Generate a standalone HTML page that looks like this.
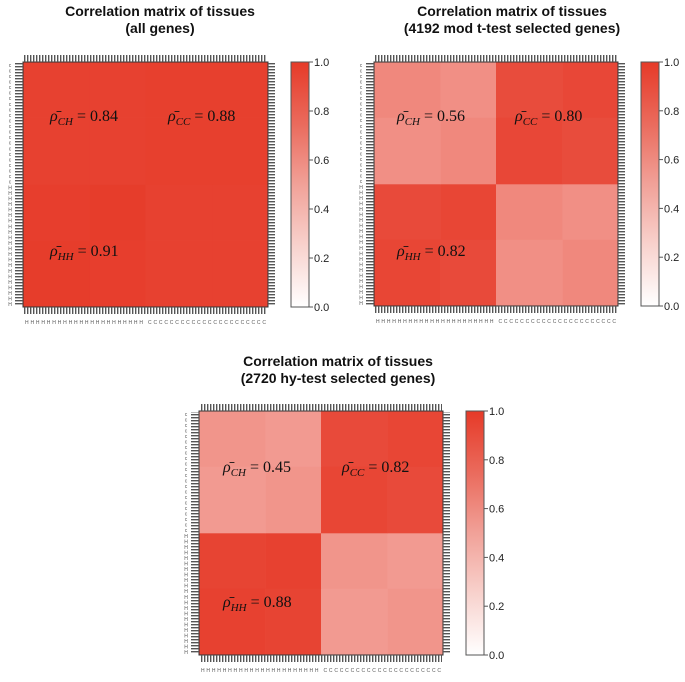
<!DOCTYPE html>
<html><head><meta charset="utf-8"><style>
html,body{margin:0;padding:0;background:#fff;}
svg{display:block;}
.t{font-family:"Liberation Sans",sans-serif;font-weight:bold;font-size:14px;fill:#111;}
.r{font-family:"Liberation Serif","DejaVu Serif",serif;font-size:16px;fill:#111;}
.cb{font-family:"Liberation Sans",sans-serif;font-size:11px;fill:#222;}
.tk{font-family:"Liberation Sans",sans-serif;font-size:5px;fill:#555;}
</style></head><body>
<svg id="fig" width="685" height="682" viewBox="0 0 685 682" xmlns="http://www.w3.org/2000/svg">
<defs>
<pattern id="hatchV" width="3" height="8" patternUnits="userSpaceOnUse"><rect x="0" y="0" width="1.4" height="8" fill="#555"/></pattern>
<pattern id="hatchH" width="8" height="3" patternUnits="userSpaceOnUse"><rect x="0" y="0" width="8" height="1.4" fill="#555"/></pattern>
<linearGradient id="cbgrad" x1="0" y1="1" x2="0" y2="0">
<stop offset="0" stop-color="#ffffff"/><stop offset="0.25" stop-color="#f8d2cd"/><stop offset="0.5" stop-color="#f1a198"/><stop offset="0.75" stop-color="#ea6a5c"/><stop offset="1" stop-color="#e63a28"/>
</linearGradient>
</defs>
</svg>
<script>
// cluster order: H1, H2, C1, C2
const clusters = ['H1','H2','C1','C2'];
const clusterSizes = [12, 10, 12, 10];
const corrAll = [
 [0.98,0.97,0.95,0.95],
 [0.97,0.98,0.95,0.95],
 [0.95,0.95,0.96,0.96],
 [0.95,0.95,0.96,0.96]];
const corrMod = [
 [0.92,0.89,0.47,0.51],
 [0.89,0.92,0.51,0.47],
 [0.47,0.51,0.91,0.88],
 [0.51,0.47,0.88,0.91]];
const corrHy = [
 [0.95,0.93,0.41,0.44],
 [0.93,0.95,0.44,0.41],
 [0.41,0.44,0.92,0.89],
 [0.44,0.41,0.89,0.92]];
const rhoLabels1 = ['0.84','0.88','0.91'];
const rhoLabels2 = ['0.56','0.80','0.82'];
const rhoLabels3 = ['0.45','0.82','0.88'];
const cbTicks = [0,0.2,0.4,0.6,0.8,1.0];

const NS='http://www.w3.org/2000/svg';
const fig=document.getElementById('fig');
function mk(tag,attrs,parent){const e=document.createElementNS(NS,tag);for(const k in attrs)e.setAttribute(k,attrs[k]);(parent||fig).appendChild(e);return e;}
function color(v){v=Math.max(0,Math.min(1,v));const t=Math.pow(v,0.75);
 const r=Math.round(255+(230-255)*t),g=Math.round(255+(58-255)*t),b=Math.round(255+(40-255)*t);return `rgb(${r},${g},${b})`;}

function chart(cfg){
 const g=mk('g',{});
 
 
 const {x0,y0,size,cx,ty}=cfg;
 const t1=mk('text',{x:cx,y:ty,'text-anchor':'middle',class:'t'},g);t1.textContent='Correlation matrix of tissues';
 
 const t2=mk('text',{x:cx,y:ty+17,'text-anchor':'middle',class:'t'},g);t2.textContent=cfg.sub;
 
 const N=clusterSizes.reduce((a,b)=>a+b,0);
 const sc=i=>size*i/N;
 const starts=[];let acc=0;clusterSizes.forEach(s=>{starts.push(acc);acc+=s;});
 const hm=mk('g',{},g);
 
 for(let i=0;i<4;i++)for(let j=0;j<4;j++){
  const x=x0+sc(starts[j]),w=sc(clusterSizes[j]);
  const h=sc(clusterSizes[i]),y=y0+size-sc(starts[i])-h;
  const r=mk('rect',{x:x,y:y,width:w+0.3,height:h+0.3,fill:color(cfg.data[i][j])},hm);
  
  
 }
 const frame=mk('rect',{x:x0,y:y0,width:size,height:size,fill:'none',stroke:'#333','stroke-width':1},g);
 
 const ht=mk('rect',{x:x0+1,y:y0-7,width:size-2,height:7,fill:'url(#hatchV)'},g);
 
 const hb=mk('rect',{x:x0+1,y:y0+size,width:size-2,height:7,fill:'url(#hatchV)'},g);
 
 const hl=mk('rect',{x:x0-8,y:y0+1,width:8,height:size-2,fill:'url(#hatchH)'},g);
 
 const hr=mk('rect',{x:x0+size,y:y0+1,width:7,height:size-2,fill:'url(#hatchH)'},g);
 
 const nH=clusterSizes[0]+clusterSizes[1];
 const bl=mk('text',{x:x0+size/2,y:y0+size+17,'text-anchor':'middle',class:'tk','textLength':size-4},g);
 bl.textContent='H'.repeat(nH)+' '+'C'.repeat(N-nH);
 
 for(let k=0;k<N;k++){
  const yy=y0+sc(k+0.5)+2;
  const lt=mk('text',{x:x0-13,y:yy,'text-anchor':'middle',class:'tk'},g);
  lt.textContent=k<N-nH?'c':'H';
  
 }
 const rl=[[cfg.rx1,cfg.ry1,'CH',cfg.rho[0]],[cfg.rx2,cfg.ry1,'CC',cfg.rho[1]],[cfg.rx1,cfg.ry2,'HH',cfg.rho[2]]];
 rl.forEach(([x,y,s,v])=>{
  const tx=mk('text',{x:x,y:y,class:'r'},g);
  tx.innerHTML=`<tspan font-style="italic">ρ̄</tspan><tspan font-style="italic" font-size="11" dy="4">${s}</tspan><tspan dy="-4"> = ${v}</tspan>`;
  
 });
 const cbx=cfg.cbx;
 const cb=mk('rect',{x:cbx,y:y0,width:18,height:size,fill:'url(#cbgrad)',stroke:'#555','stroke-width':1},g);
 
 cbTicks.forEach(v=>{
  const y=y0+size-v*size;
  const l=mk('line',{x1:cbx+18,x2:cbx+22,y1:y,y2:y,stroke:'#555'},g);
  
  const tt=mk('text',{x:cbx+23,y:y+4,class:'cb'},g);tt.textContent=v.toFixed(1);
  
 });
}
chart({name:'chart-all-genes',x0:23,y0:62,size:245,cx:160,ty:16,sub:'(all genes)',data:corrAll,rho:rhoLabels1,rx1:50,rx2:168,ry1:121,ry2:256,cbx:291});
chart({name:'chart-mod-t-test',x0:374,y0:62,size:244,cx:512,ty:16,sub:'(4192 mod t-test selected genes)',data:corrMod,rho:rhoLabels2,rx1:397,rx2:515,ry1:121,ry2:256,cbx:641});
chart({name:'chart-hy-test',x0:199,y0:411,size:244,cx:338,ty:366,sub:'(2720 hy-test selected genes)',data:corrHy,rho:rhoLabels3,rx1:223,rx2:342,ry1:472,ry2:607,cbx:466});
</script>
</body></html>
